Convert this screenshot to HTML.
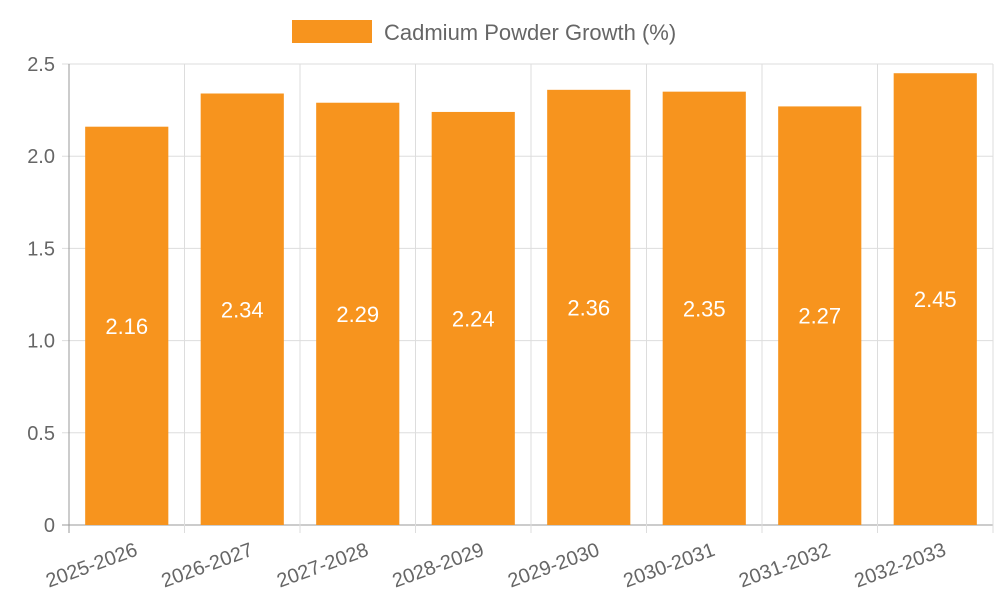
<!DOCTYPE html>
<html><head><meta charset="utf-8"><style>
body{margin:0;background:#fff;}
svg{display:block;font-family:"Liberation Sans",sans-serif;}
</style></head><body>
<svg id="chart" width="1000" height="600">
<g>
<rect x="292" y="20" width="80" height="23" fill="#f7941e"></rect>
<text x="384" y="40" font-size="22" fill="#666">Cadmium Powder Growth (%)</text>
</g>
<g id="grid"></g><g id="bars"></g><g id="labels"></g>
</svg>
<script>
const categories=["2025-2026","2026-2027","2027-2028","2028-2029","2029-2030","2030-2031","2031-2032","2032-2033"];
const values=[2.16,2.34,2.29,2.24,2.36,2.35,2.27,2.45];
const yTicks=[0,0.5,1.0,1.5,2.0,2.5];
const yTickLabels=["0","0.5","1.0","1.5","2.0","2.5"];
const L=69,R=993,T=64,B=525,yMax=2.5;
const ns="http://www.w3.org/2000/svg";
const y=v=>B-(v/yMax)*(B-T);
const bw=(R-L)/categories.length;
const x=i=>L+i*bw;
function mk(tag,attrs,parent,txt){const e=document.createElementNS(ns,tag);for(const k in attrs)e.setAttribute(k,attrs[k]);if(txt!=null)e.textContent=txt;parent.appendChild(e);return e;}
const grid=document.getElementById('grid'),bars=document.getElementById('bars'),labels=document.getElementById('labels');
yTicks.forEach((t,i)=>{
 const g=mk('line',{x1:L-7,x2:R,y1:y(t),y2:y(t),stroke:i===0?'#999':'#ddd','stroke-width':1},grid);
 
 
 const tl=mk('text',{x:L-14,y:y(t)+7,'text-anchor':'end','font-size':20,fill:'#666'},grid,yTickLabels[i]);
 
 
});
for(let i=0;i<=categories.length;i++){
 const g=mk('line',{x1:x(i),x2:x(i),y1:T,y2:B+8,stroke:i===0?'#999':'#ddd','stroke-width':1},grid);
 
 
}
categories.forEach((c,i)=>{
 const w=bw*0.72,bx=x(i)+(bw-w)/2;
 const r=mk('rect',{x:bx,y:y(values[i]),width:w,height:B-y(values[i]),fill:'#f7941e'},bars);
 
 
 const v=mk('text',{x:x(i)+bw/2,y:(y(values[i])+B)/2+8,'text-anchor':'middle','font-size':22,fill:'#fff'},labels,values[i].toFixed(2));
 
 
 const cx=x(i)+bw/2+12,cy=B+30;
 const tl=mk('text',{x:cx,y:cy,'text-anchor':'end','font-size':20,fill:'#666',transform:`rotate(-20 ${cx} ${cy})`},labels,c);
 
 
});
</script>
</body></html>
